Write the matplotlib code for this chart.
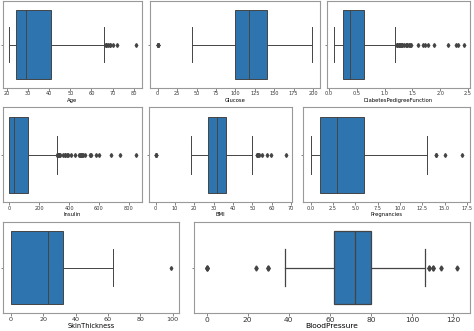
import matplotlib
matplotlib.use("Agg")
import matplotlib.pyplot as plt

# ---- data ----
variables = ["Age", "Glucose", "DiabetesPedigreeFunction",
             "Insulin", "BMI", "Pregnancies",
             "SkinThickness", "BloodPressure"]
q1 = [24, 99, 0.244, 0, 27.3, 1, 0, 62]
medians = [29, 117, 0.3725, 30.5, 32.0, 3, 23, 72]
q3 = [41, 140.25, 0.626, 127.25, 36.6, 6, 32, 80]
whisker_low = [21, 44, 0.078, 0, 18.2, 0, 0, 38]
whisker_high = [66, 199, 1.191, 318, 50.0, 13, 63, 106]

age_outliers = [67, 67, 67, 68, 69, 69, 70, 72, 81]
glucose_outliers = [0, 0, 0, 0, 0]
dpf_outliers = [1.213, 1.222, 1.224, 1.251, 1.258, 1.268, 1.292, 1.318, 1.321,
                1.353, 1.39, 1.394, 1.4, 1.441, 1.461, 1.476, 1.6, 1.699,
                1.731, 1.781, 1.893, 2.137, 2.288, 2.329, 2.42]
insulin_outliers = [321, 325, 326, 328, 330, 335, 342, 360, 370, 375, 387, 392,
                    415, 440, 465, 474, 478, 480, 485, 495, 510, 543, 545, 579,
                    600, 680, 744, 846]
bmi_outliers = [0, 0, 0, 52.3, 52.3, 52.9, 53.2, 55.0, 57.3, 59.4, 67.1]
pregnancies_outliers = [14, 14, 15, 17]
skin_outliers = [99]
bp_outliers = [0, 0, 0, 24, 30, 30, 108, 108, 110, 110, 114, 122]
outliers = [age_outliers, glucose_outliers, dpf_outliers, insulin_outliers,
            bmi_outliers, pregnancies_outliers, skin_outliers, bp_outliers]

xticks = [
    [20, 30, 40, 50, 60, 70, 80],
    [0, 25, 50, 75, 100, 125, 150, 175, 200],
    [0.0, 0.5, 1.0, 1.5, 2.0, 2.5],
    [0, 200, 400, 600, 800],
    [0, 10, 20, 30, 40, 50, 60, 70],
    [0.0, 2.5, 5.0, 7.5, 10.0, 12.5, 15.0, 17.5],
    [0, 20, 40, 60, 80, 100],
    [0, 20, 40, 60, 80, 100, 120],
]
xticklabels = [
    ["20", "30", "40", "50", "60", "70", "80"],
    ["0", "25", "50", "75", "100", "125", "150", "175", "200"],
    ["0.0", "0.5", "1.0", "1.5", "2.0", "2.5"],
    ["0", "200", "400", "600", "800"],
    ["0", "10", "20", "30", "40", "50", "60", "70"],
    ["0.0", "2.5", "5.0", "7.5", "10.0", "12.5", "15.0", "17.5"],
    ["0", "20", "40", "60", "80", "100"],
    ["0", "20", "40", "60", "80", "100", "120"],
]

# ---- layout (pixels: left, right, top, bottom) ----
W, H = 474, 331
boxes_px = [
    (3, 142, 1.5, 87.5), (150, 320, 1.5, 87.5), (327, 470, 1.5, 87.5),
    (3, 142, 107, 202), (149, 292, 107, 202), (303, 470, 107, 202),
    (3, 179, 222, 313), (194, 470, 222, 313),
]
tick_fs = [3.6, 3.6, 3.6, 3.6, 3.6, 3.6, 4.6, 5.4]
label_fs = [3.8, 3.8, 3.8, 3.8, 3.8, 3.8, 4.8, 5.4]
label_pad = [1.0, 1.0, 1.0, 1.0, 1.0, 1.0, 0.5, 0.3]

box_color = "#2e75b0"
line_color = "#444444"
spine_color = "#999999"

fig = plt.figure(figsize=(W / 100, H / 100), dpi=100)
fig.patch.set_facecolor("white")

for i, name in enumerate(variables):
    l, r, t, b = boxes_px[i]
    ax = fig.add_axes([l / W, 1 - b / H, (r - l) / W, (b - t) / H])
    stats = [dict(med=medians[i], q1=q1[i], q3=q3[i],
                  whislo=whisker_low[i], whishi=whisker_high[i],
                  fliers=outliers[i], label="")]
    lw = 0.9 if i == 7 else 0.7
    ax.bxp(stats, positions=[0], vert=False, widths=0.8, patch_artist=True,
           showfliers=True, manage_ticks=False,
           boxprops=dict(facecolor=box_color, edgecolor=line_color, linewidth=lw),
           medianprops=dict(color=line_color, linewidth=lw),
           whiskerprops=dict(color=line_color, linewidth=lw),
           capprops=dict(color=line_color, linewidth=lw),
           capwidths=0.4,
           flierprops=dict(marker="d", markerfacecolor=line_color,
                           markeredgecolor=line_color,
                           markersize=2.6 if i == 7 else 2.0))
    ax.set_ylim(0.5, -0.5)
    ax.margins(x=0.05)
    ax.set_yticks([0])
    ax.set_yticklabels([""])
    ax.set_xticks(xticks[i])
    ax.set_xticklabels(xticklabels[i], fontsize=tick_fs[i])
    ax.set_xlabel(name, fontsize=label_fs[i], labelpad=label_pad[i])
    ax.tick_params(axis="both", length=1.8, width=0.5, colors="#555555",
                   pad=1.0, labelcolor="#333333")
    for sp in ax.spines.values():
        sp.set_color(spine_color)
        sp.set_linewidth(0.8)

fig.savefig("out.png", dpi=100, facecolor="white")
